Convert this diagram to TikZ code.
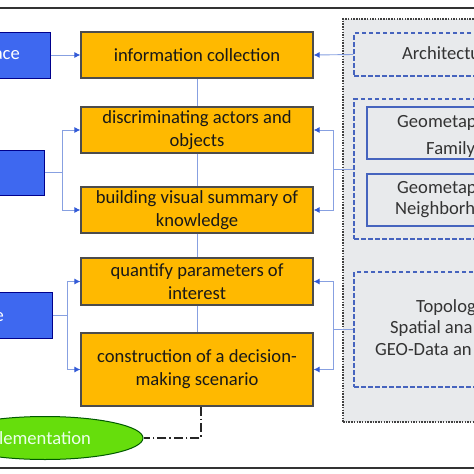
\documentclass[tikz,border=0pt]{standalone}
\usepackage{fontspec}
\setmainfont{Carlito}
\usetikzlibrary{arrows.meta,shapes.geometric,calc}
\definecolor{boxorange}{RGB}{255,185,0}
\definecolor{boxblue}{RGB}{62,104,240}
\definecolor{lineblue}{RGB}{135,160,225}
\definecolor{tipblue}{RGB}{50,90,215}
\definecolor{panelgray}{RGB}{232,234,236}
\definecolor{dashblue}{RGB}{70,100,190}
\definecolor{implgreen}{RGB}{102,222,12}
\tikzset{
  stage/.style={draw=black!70, line width=1.2pt, fill=boxorange, text=black!90,
    align=center, minimum width=232pt, inner sep=0pt},
  phase/.style={draw=blue!55!black, line width=1pt, fill=boxblue, text=white,
    inner sep=0pt},
  toolbox/.style={draw=dashblue, dash pattern=on 4.5pt off 2.5pt, line width=1.1pt,
    fill=panelgray, minimum width=156pt, inner sep=0pt},
  frag/.style={inner sep=0pt, text height=13pt, text depth=4pt},
  feed/.style={draw=lineblue, line width=0.9pt,
    -{Latex[length=6pt,width=6pt,color=tipblue]}},
  wire/.style={draw=lineblue, line width=0.9pt}
}

\begin{document}
\begin{tikzpicture}[x=1pt, y=-1pt, font=\fontsize{18.6}{23}\selectfont]
  \clip (0,0) rectangle (474,474);
  \fill[white] (0,0) rectangle (474,474);
  \draw[black!80, line width=1.5pt] (0,8) -- (474,8);
  \draw[black!80, line width=1.5pt] (0,468) -- (474,468);

  % right panel
  \node[draw=black!75, dash pattern=on 1.5pt off 1.2pt, line width=1.2pt,
    fill=panelgray, minimum width=177pt, minimum height=403pt]
    at (431.5,220.5) (panel) {};
  \node[toolbox, minimum height=43pt]  at (432,54.5)  (arch) {};
  \node[toolbox, minimum height=140pt] at (432,169)   (geo)  {};
  \node[draw=dashblue, line width=1.1pt, fill=panelgray, minimum width=133pt,
    minimum height=52pt] at (433.5,133) (geofam) {};
  \node[draw=dashblue, line width=1.1pt, fill=panelgray, minimum width=133pt,
    minimum height=52pt] at (433.5,200) (geonb) {};
  \node[toolbox, minimum height=115pt] at (432,329.5) (topo) {};

  \node[frag, anchor=west, text=black!80] at (402,55)  {Architectu};
  \node[frag, anchor=west, text=black!80] at (397,123) {Geometap};
  \node[frag, anchor=west, text=black!80] at (426,150) {Family};
  \node[frag, anchor=west, text=black!80] at (397,189) {Geometap};
  \node[frag, anchor=west, text=black!80] at (395,210) {Neighborh};
  \node[frag, anchor=west, text=black!80] at (416,308) {Topolog};
  \node[frag, anchor=west, text=black!80] at (390,329) {Spatial ana};
  \node[frag, anchor=west, text=black!80] at (375,351) {GEO-Data an};

  % left phases
  \node[phase, minimum width=80pt, minimum height=46pt] at (10,55)    (ph1) {};
  \node[phase, minimum width=74pt, minimum height=45pt] at (7,172.5)  (ph2) {};
  \node[phase, minimum width=82pt, minimum height=46pt] at (11,315)   (ph3) {};
  \node[frag, anchor=east, text=white] at (20,55)  {ace};
  \node[frag, anchor=east, text=white] at (4,317)  {e};

  % stages
  \node[stage, minimum height=46pt] at (197,55)    (info)  {information collection};
  \node[stage, minimum height=46pt] at (197,130)   (discr)
    {discriminating actors and\\objects};
  \node[stage, minimum height=46pt] at (197,210)   (summ)
    {building visual summary of\\knowledge};
  \node[stage, minimum height=47pt] at (197,281.5) (quant)
    {quantify parameters of\\interest};
  \node[stage, minimum height=73pt] at (197,369.5) (scen)
    {construction of a decision-\\making scenario};

  \draw[wire] (info)  -- (discr);
  \draw[wire] (discr) -- (summ);
  \draw[wire] (summ)  -- (quant);
  \draw[wire] (quant) -- (scen);

  % left feeds
  \draw[feed] (ph1.east) -- (info.west);
  \draw[wire] (ph2.east) --++ (18,0) coordinate (jl2);
  \draw[feed] (jl2) |- (discr.west);
  \draw[feed] (jl2) |- (summ.west);
  \draw[wire] (ph3.east) --++ (15,0) coordinate (jl3);
  \draw[feed] (jl3) |- (quant.west);
  \draw[feed] (jl3) |- (scen.west);

  % right feeds
  \draw[feed] (arch.west) -- (info.east);
  \draw[wire] (geo.west) --++ (-20,0) coordinate (jr2);
  \draw[feed] (jr2) |- (discr.east);
  \draw[feed] (jr2) |- (summ.east);
  \draw[wire] (topo.west) --++ (-20,0) coordinate (jr3);
  \draw[feed] (jr3) |- (quant.east);
  \draw[feed] (jr3) |- (scen.east);

  % implementation
  \node[ellipse, draw=green!35!black, line width=1pt, fill=implgreen,
    text=green!8, minimum width=196pt, minimum height=43pt, inner sep=0pt]
    at (45,438) (impl) {lementation};
  \draw[black!85, line width=1.5pt, dash pattern=on 9pt off 3pt on 1.5pt off 3pt]
    ([xshift=4pt]scen.south) |- (impl.east);
\end{tikzpicture}
\end{document}
